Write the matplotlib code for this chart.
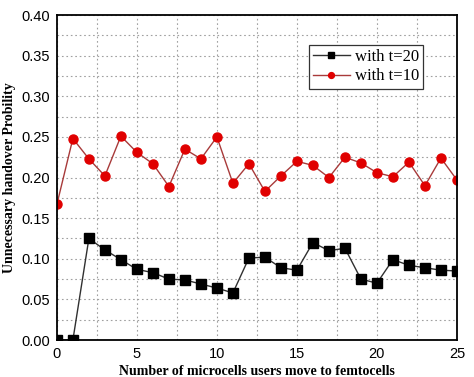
import matplotlib
matplotlib.use("Agg")
import matplotlib.pyplot as plt
from matplotlib.ticker import MultipleLocator

# 数据
users = list(range(26))
prob_t20 = [0.0, 0.0, 0.125, 0.111, 0.099, 0.087, 0.083, 0.075, 0.074, 0.069,
            0.064, 0.058, 0.101, 0.102, 0.089, 0.086, 0.120, 0.110, 0.113, 0.075,
            0.070, 0.099, 0.092, 0.089, 0.086, 0.085]
prob_t10 = [0.167, 0.248, 0.223, 0.202, 0.251, 0.231, 0.217, 0.189, 0.235, 0.223,
            0.250, 0.193, 0.217, 0.183, 0.202, 0.220, 0.215, 0.200, 0.225, 0.218,
            0.206, 0.201, 0.219, 0.190, 0.224, 0.197]

fig = plt.figure(figsize=(4.74, 3.77), dpi=100)
ax = fig.add_axes([0.120, 0.098, 0.844, 0.862])

ax.plot(users, prob_t20, color="#303030", lw=1.0, marker="s", ms=6.5,
        mfc="black", mec="black", label="with t=20")
ax.plot(users, prob_t10, color="#a83a3a", lw=1.0, marker="o", ms=6.5,
        mfc="#e00000", mec="#e00000", label="with t=10")

ax.set_xlim(0, 25)
ax.set_ylim(0, 0.40)
ax.xaxis.set_major_locator(MultipleLocator(5))
ax.xaxis.set_minor_locator(MultipleLocator(2.5))
ax.yaxis.set_major_locator(MultipleLocator(0.05))
ax.yaxis.set_minor_locator(MultipleLocator(0.025))
ax.yaxis.set_major_formatter(plt.FuncFormatter(lambda v, p: f"{v:.2f}"))
ax.tick_params(which="both", length=0, labelsize=10.5, pad=5)
for lab in ax.get_xticklabels() + ax.get_yticklabels():
    lab.set_fontfamily("Liberation Sans")

ax.grid(True, which="both", color="#a0a0a0", ls=(0, (1.5, 2.5)), lw=0.8)
ax.set_axisbelow(True)
for s in ax.spines.values():
    s.set_linewidth(1.3)

ax.set_xlabel("Number of microcells users move to femtocells",
              fontfamily="Liberation Serif", fontweight="bold", fontsize=10, labelpad=3)
ax.set_ylabel("Unnecessary handover Probility",
              fontfamily="Liberation Serif", fontweight="bold", fontsize=10, labelpad=4)

leg = ax.legend(loc="upper right", bbox_to_anchor=(0.915, 0.908),
                prop={"family": "Liberation Serif", "size": 12},
                fancybox=False, framealpha=1, edgecolor="#333333",
                handlelength=2.2, handletextpad=0.3, borderpad=0.25,
                labelspacing=0.2, borderaxespad=0, markerscale=0.65)
leg.get_frame().set_linewidth(0.9)

plt.savefig("out.png", dpi=100)
plt.close()
